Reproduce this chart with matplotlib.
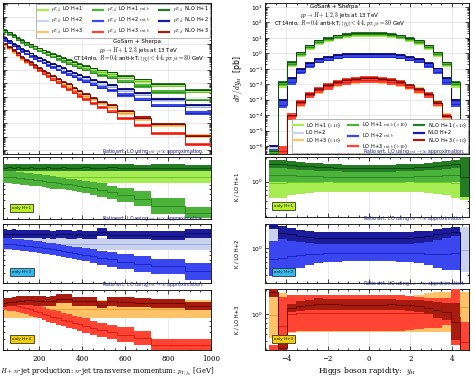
import numpy as np
import matplotlib
matplotlib.use('Agg')
import matplotlib.pyplot as plt
from matplotlib.lines import Line2D
from matplotlib.ticker import LogLocator, NullFormatter, MultipleLocator

plt.rcParams['mathtext.fontset'] = 'cm'
plt.rcParams['font.family'] = ['DejaVu Sans']

# ---------------- left column: jet transverse momentum ----------------
pt_edges = [30, 50, 70, 90, 110, 130, 150, 170, 190, 210, 230, 250, 275, 300, 325,
            350, 375, 400, 435, 470, 515, 560, 640, 720, 880, 1000]
# LO central values (log10 of d sigma / d pT)
log10_lo_h1 = [-0.11, -0.28, -0.48, -0.68, -0.86, -1.03, -1.18, -1.33, -1.48, -1.63, -1.76, -1.91, -2.06,
               -2.21, -2.36, -2.51, -2.66, -2.81, -2.99, -3.14, -3.29, -3.54, -3.81, -4.17, -4.62]
log10_lo_h2 = [-0.73, -0.91, -1.13, -1.33, -1.53, -1.71, -1.88, -2.04, -2.21, -2.36, -2.51, -2.66, -2.84,
               -2.99, -3.16, -3.31, -3.49, -3.66, -3.86, -4.04, -4.22, -4.52, -4.84, -5.24, -5.74]
log10_lo_h3 = [-1.11, -1.33, -1.61, -1.86, -2.11, -2.34, -2.54, -2.74, -2.94, -3.16, -3.34, -3.56, -3.79,
               -4.02, -4.22, -4.44, -4.67, -4.89, -5.17, -5.44, -5.72, -6.17, -6.65, -7.12, -7.95]
# ratios to LO (m_t -> inf)
pt_lo1_lo = [0.76] * 25
pt_lo1_hi = [1.23] * 25
pt_mtb1_lo = [0.76, 0.75, 0.74, 0.73, 0.72, 0.70, 0.69, 0.68, 0.67, 0.66, 0.64, 0.62, 0.61, 0.60, 0.58,
              0.56, 0.54, 0.52, 0.49, 0.46, 0.42, 0.37, 0.32, 0.24, 0.205]
pt_mtb1_hi = [1.20, 1.19, 1.18, 1.16, 1.14, 1.12, 1.10, 1.08, 1.06, 1.04, 1.01, 0.98, 0.95, 0.93, 0.90,
              0.87, 0.85, 0.82, 0.79, 0.75, 0.69, 0.63, 0.56, 0.44, 0.31]
pt_nlo1_lo = [1.20, 1.21, 1.20, 1.21, 1.20, 1.20, 1.21, 1.20, 1.20, 1.20, 1.21, 1.20, 1.20, 1.21, 1.20,
              1.20, 1.20, 1.21, 1.20, 1.20, 1.21, 1.20, 1.19, 1.20, 1.20]
pt_nlo1_hi = [1.52, 1.53, 1.52, 1.53, 1.52, 1.52, 1.53, 1.52, 1.52, 1.52, 1.53, 1.52, 1.52, 1.53, 1.52,
              1.52, 1.52, 1.53, 1.52, 1.52, 1.53, 1.52, 1.50, 1.52, 1.50]

pt_lo2_lo = [0.73] * 25
pt_lo2_hi = [1.15] * 25
pt_mtb2_lo = [0.75, 0.74, 0.73, 0.72, 0.71, 0.69, 0.67, 0.66, 0.64, 0.62, 0.61, 0.59, 0.57, 0.55, 0.53,
              0.51, 0.49, 0.47, 0.44, 0.41, 0.38, 0.34, 0.31, 0.28, 0.225]
pt_mtb2_hi = [1.15, 1.14, 1.13, 1.12, 1.10, 1.08, 1.06, 1.04, 1.02, 1.00, 0.97, 0.94, 0.92, 0.89, 0.86,
              0.83, 0.80, 0.77, 0.74, 0.70, 0.66, 0.62, 0.57, 0.52, 0.44]
pt_nlo2_lo = [1.15, 1.17, 1.15, 1.16, 1.14, 1.15, 1.16, 1.14, 1.15, 1.13, 1.15, 1.12, 1.14, 1.15, 1.13,
              1.12, 1.14, 1.12, 1.12, 1.25, 1.12, 1.12, 1.10, 1.08, 1.18]
pt_nlo2_hi = [1.62, 1.60, 1.62, 1.58, 1.60, 1.57, 1.60, 1.58, 1.60, 1.57, 1.58, 1.55, 1.57, 1.60, 1.58,
              1.55, 1.57, 1.55, 1.55, 1.72, 1.55, 1.55, 1.52, 1.50, 1.62]

pt_lo3_lo = [0.68] * 25
pt_lo3_hi = [1.36] * 25
pt_mtb3_lo = [0.93, 0.91, 0.89, 0.86, 0.83, 0.79, 0.75, 0.71, 0.67, 0.63, 0.59, 0.56, 0.53, 0.50, 0.47,
              0.44, 0.41, 0.39, 0.36, 0.33, 0.30, 0.27, 0.24, 0.19, 0.19]
pt_mtb3_hi = [1.45, 1.43, 1.40, 1.37, 1.33, 1.28, 1.22, 1.16, 1.10, 1.04, 0.98, 0.93, 0.88, 0.83, 0.79,
              0.75, 0.71, 0.67, 0.62, 0.57, 0.53, 0.48, 0.42, 0.31, 0.31]
pt_nlo3_lo = [1.05, 1.08, 1.08, 1.12, 1.12, 1.12, 1.12, 1.10, 1.10, 1.08, 1.08, 1.08, 1.21, 1.21, 1.21,
              1.08, 1.08, 1.08, 1.08, 1.00, 1.08, 1.05, 1.03, 1.00, 0.93]
pt_nlo3_hi = [1.45, 1.48, 1.50, 1.58, 1.58, 1.60, 1.60, 1.58, 1.58, 1.56, 1.55, 1.56, 1.70, 1.70, 1.70,
              1.55, 1.55, 1.55, 1.55, 1.30, 1.55, 1.50, 1.48, 1.42, 1.27]

# ---------------- right column: Higgs rapidity ----------------
y_edges = [-4.84, -4.40, -3.96, -3.52, -3.08, -2.64, -2.20, -1.76, -1.32, -0.88, -0.44, 0.00,
           0.44, 0.88, 1.32, 1.76, 2.20, 2.64, 3.08, 3.52, 3.96, 4.40, 4.84]
log10_lo_h1_y = [-7.5, -3.06, -1.76, -1.11, -0.66, -0.33, -0.14, 0.01, 0.11, 0.17, 0.19,
                 0.19, 0.17, 0.11, 0.01, -0.14, -0.33, -0.66, -1.11, -1.76, -3.06, -7.5]
log10_lo_h2_y = [-6.25, -3.22, -1.78, -1.14, -0.75, -0.48, -0.36, -0.23, -0.18, -0.18, -0.18,
                 -0.18, -0.18, -0.18, -0.23, -0.36, -0.48, -0.75, -1.14, -1.78, -3.22, -7.5]
log10_lo_h3_y = [-6.0, -5.2, -3.09, -2.25, -1.71, -1.41, -1.16, -0.96, -0.84, -0.76, -0.71,
                 -0.71, -0.76, -0.84, -0.96, -1.16, -1.41, -1.71, -2.25, -3.09, -5.2, -6.0]
scale_h1, scale_h2, scale_h3 = 10.0, 1.0, 0.1

y_lo1_lo = [0.66, 0.66, 0.70, 0.72, 0.74, 0.76, 0.77, 0.77, 0.77, 0.77, 0.77, 0.77, 0.77, 0.77, 0.77, 0.77, 0.76, 0.74, 0.72, 0.70, 0.66, 0.62]
y_lo1_hi = [1.44, 1.43, 1.40, 1.37, 1.35, 1.33, 1.32, 1.31, 1.30, 1.30, 1.30, 1.30, 1.30, 1.30, 1.31, 1.32, 1.33, 1.35, 1.37, 1.40, 1.43, 1.45]
y_mtb1_lo = [0.99] * 22
y_mtb1_hi = [1.44, 1.43, 1.40, 1.37, 1.35, 1.33, 1.32, 1.31, 1.30, 1.30, 1.30, 1.30, 1.30, 1.30, 1.31, 1.32, 1.33, 1.35, 1.37, 1.40, 1.43, 1.45]
y_nlo1_lo = [1.44, 1.43, 1.40, 1.37, 1.35, 1.33, 1.32, 1.31, 1.30, 1.30, 1.30, 1.30, 1.30, 1.30, 1.31, 1.32, 1.33, 1.35, 1.37, 1.40, 1.43, 0.68]
y_nlo1_hi = [1.78, 1.77, 1.72, 1.68, 1.64, 1.61, 1.59, 1.57, 1.56, 1.56, 1.56, 1.56, 1.56, 1.56, 1.57, 1.58, 1.60, 1.63, 1.66, 1.70, 1.76, 1.90]

y_lo2_lo = [0.50, 0.48, 0.55, 0.60, 0.64, 0.67, 0.69, 0.70, 0.71, 0.71, 0.71, 0.71, 0.71, 0.71, 0.70, 0.69, 0.67, 0.64, 0.60, 0.57, 0.57, 0.53]
y_lo2_hi = [1.65, 1.27, 1.22, 1.18, 1.15, 1.13, 1.12, 1.11, 1.11, 1.11, 1.11, 1.11, 1.11, 1.11, 1.11, 1.12, 1.14, 1.18, 1.25, 1.32, 1.37, 1.74]
y_mtb2_lo = [0.48, 0.48, 0.55, 0.60, 0.64, 0.67, 0.69, 0.70, 0.71, 0.71, 0.71, 0.71, 0.71, 0.71, 0.70, 0.69, 0.67, 0.64, 0.60, 0.57, 0.57, 0.10]
y_mtb2_hi = [1.20, 1.27, 1.22, 1.18, 1.15, 1.13, 1.12, 1.11, 1.11, 1.11, 1.11, 1.11, 1.11, 1.11, 1.11, 1.12, 1.14, 1.18, 1.25, 1.32, 1.37, 0.12]
y_nlo2_lo = [1.65, 1.27, 1.22, 1.18, 1.15, 1.13, 1.12, 1.11, 1.11, 1.11, 1.11, 1.11, 1.11, 1.11, 1.11, 1.12, 1.14, 1.18, 1.25, 1.32, 1.37, 0.10]
y_nlo2_hi = [1.95, 1.80, 1.70, 1.62, 1.58, 1.55, 1.54, 1.53, 1.53, 1.53, 1.53, 1.53, 1.53, 1.53, 1.53, 1.54, 1.56, 1.60, 1.66, 1.72, 1.74, 0.12]

y_lo3_lo = [0.55, 0.60, 0.62, 0.63, 0.63, 0.63, 0.63, 0.63, 0.63, 0.63, 0.63, 0.63, 0.63, 0.63, 0.63, 0.63, 0.63, 0.63, 0.63, 0.63, 0.62, 0.81]
y_lo3_hi = [1.75, 1.70, 1.65, 1.62, 1.60, 1.60, 1.60, 1.60, 1.60, 1.60, 1.60, 1.60, 1.60, 1.60, 1.60, 1.60, 1.62, 1.70, 1.75, 1.75, 1.75, 1.75]
y_mtb3_lo = [0.25, 0.35, 0.63, 0.65, 0.65, 0.65, 0.65, 0.65, 0.65, 0.65, 0.65, 0.65, 0.65, 0.65, 0.65, 0.66, 0.68, 0.70, 0.70, 0.75, 0.45, 0.30]
y_mtb3_hi = [0.45, 1.55, 1.63, 1.63, 1.63, 1.63, 1.63, 1.63, 1.63, 1.63, 1.63, 1.63, 1.63, 1.63, 1.63, 1.60, 1.55, 1.50, 1.50, 1.50, 1.90, 0.81]
y_nlo3_lo = [1.55, 0.38, 1.05, 1.08, 1.10, 1.12, 1.12, 1.11, 1.11, 1.11, 1.11, 1.11, 1.11, 1.12, 1.10, 1.08, 1.05, 1.00, 0.90, 0.86, 0.51, 0.10]
y_nlo3_hi = [2.00, 0.47, 1.30, 1.40, 1.45, 1.50, 1.48, 1.48, 1.47, 1.47, 1.47, 1.47, 1.47, 1.48, 1.45, 1.45, 1.42, 1.40, 1.35, 1.32, 1.32, 0.12]

# colours: (fill, line) for LO, LO m_tb, NLO
cols = {
    1: [('#a6ec52', '#6cc82a'), ('#4cb23a', '#2a8a20'), ('#237b23', '#0f4f0f')],
    2: [('#c9d3f0', '#9aaae0'), ('#3a46f0', '#1a28c8'), ('#1c1c9a', '#0a0a60')],
    3: [('#ffc266', '#f0a030'), ('#ff4433', '#e01a10'), ('#a81c10', '#700800')],
}
tag_cols = {1: '#b8f020', 2: '#33bbee', 3: '#f0d000'}

fig = plt.figure(figsize=(4.74, 3.90), dpi=100)

def fr(px):
    return px / 474.0

def fy(top, bot):
    return 1 - bot / 390.0, (bot - top) / 390.0

Lx, Lw = fr(3), fr(208)
Rx, Rw = fr(265), fr(204)
axL = [fig.add_axes([Lx, fy(3, 154)[0], Lw, fy(3, 154)[1]])]
for t, b in [(157, 219), (224, 283), (290, 350)]:
    bb, hh = fy(t, b)
    axL.append(fig.add_axes([Lx, bb, Lw, hh]))
axR = [fig.add_axes([Rx, fy(3, 154)[0], Rw, fy(3, 154)[1]])]
for t, b in [(157, 217), (224, 283), (289, 350)]:
    bb, hh = fy(t, b)
    axR.append(fig.add_axes([Rx, bb, Rw, hh]))


def band(ax, edges, lo, hi, fill, line, z):
    lo = np.asarray(lo, float)
    hi = np.asarray(hi, float)
    ax.stairs(hi, edges, baseline=lo, fill=True, color=fill, lw=0, zorder=z)
    ax.stairs(np.sqrt(lo * hi), edges, baseline=None, color=line, lw=0.7, zorder=z + 0.1)


pt_data = {
    1: (log10_lo_h1, (pt_lo1_lo, pt_lo1_hi), (pt_mtb1_lo, pt_mtb1_hi), (pt_nlo1_lo, pt_nlo1_hi)),
    2: (log10_lo_h2, (pt_lo2_lo, pt_lo2_hi), (pt_mtb2_lo, pt_mtb2_hi), (pt_nlo2_lo, pt_nlo2_hi)),
    3: (log10_lo_h3, (pt_lo3_lo, pt_lo3_hi), (pt_mtb3_lo, pt_mtb3_hi), (pt_nlo3_lo, pt_nlo3_hi)),
}
y_data = {
    1: (log10_lo_h1_y, scale_h1, (y_lo1_lo, y_lo1_hi), (y_mtb1_lo, y_mtb1_hi), (y_nlo1_lo, y_nlo1_hi)),
    2: (log10_lo_h2_y, scale_h2, (y_lo2_lo, y_lo2_hi), (y_mtb2_lo, y_mtb2_hi), (y_nlo2_lo, y_nlo2_hi)),
    3: (log10_lo_h3_y, scale_h3, (y_lo3_lo, y_lo3_hi), (y_mtb3_lo, y_mtb3_hi), (y_nlo3_lo, y_nlo3_hi)),
}

# ---- left main + ratios
for n in [3, 2, 1]:
    lg, rlo, rmtb, rnlo = pt_data[n]
    c = 10.0 ** np.asarray(lg)
    for k, (lo, hi) in enumerate([rlo, rmtb, rnlo]):
        band(axL[0], pt_edges, c * np.asarray(lo), c * np.asarray(hi), cols[n][k][0], cols[n][k][1], 2 + k + (3 - n) * 3)
        band(axL[n], pt_edges, lo, hi, cols[n][k][0], cols[n][k][1], 2 + k)
# ---- right main + ratios
for n in [3, 2, 1]:
    lg, sc, rlo, rmtb, rnlo = y_data[n]
    c = sc * 10.0 ** np.asarray(lg)
    for k, (lo, hi) in enumerate([rlo, rmtb, rnlo]):
        band(axR[0], y_edges, c * np.asarray(lo), c * np.asarray(hi), cols[n][k][0], cols[n][k][1], 2 + k + (3 - n) * 3)
        band(axR[n], y_edges, lo, hi, cols[n][k][0], cols[n][k][1], 2 + k)

serif = 'DejaVu Serif'
for ax in axL + axR:
    ax.set_yscale('log')
    ax.tick_params(which='both', direction='in', top=True, right=True, width=0.5, labelsize=5)
    ax.tick_params(which='major', length=3)
    ax.tick_params(which='minor', length=1.6)
    for s in ax.spines.values():
        s.set_linewidth(0.6)

for ax in axL:
    ax.set_xlim(30, 1000)
    ax.xaxis.set_major_locator(MultipleLocator(200))
    ax.xaxis.set_minor_locator(MultipleLocator(50))
    ax.tick_params(labelleft=False)
for ax in axR:
    ax.set_xlim(-5.03, 4.84)
    ax.xaxis.set_major_locator(MultipleLocator(2))
    ax.xaxis.set_minor_locator(MultipleLocator(0.5))

axL[0].set_ylim(10 ** -9.3, 10 ** 2.05)
axR[0].set_ylim(10 ** -6.52, 10 ** 3.26)
for ax in (axL[0], axR[0]):
    ax.yaxis.set_major_locator(LogLocator(base=10, numticks=20))
    ax.yaxis.set_minor_locator(LogLocator(base=10, subs=np.arange(2, 10), numticks=20))
    ax.yaxis.set_minor_formatter(NullFormatter())
    ax.grid(True, which='major', color='#d9d9d9', lw=0.4)
    ax.set_axisbelow(True)
for ax in axL[1:]:
    ax.set_ylim(0.2, 2.0)
for ax in axR[1:]:
    ax.set_ylim(0.4, 1.9)
for ax in axL[1:] + axR[1:]:
    ax.yaxis.set_minor_formatter(NullFormatter())
    ax.grid(True, which='major', color='#d9d9d9', lw=0.4)
    ax.set_axisbelow(True)
for ax in axL[:3] + axR[:3]:
    ax.tick_params(labelbottom=False)
for ax in axR:
    ax.tick_params(axis='y', labelsize=4.3, pad=1.2)
for ax in axL + axR:
    for lab in ax.get_xticklabels():
        lab.set_family(serif)

# ---- text
txt = dict(fontsize=4.0, ha='center', va='center')
axL[0].text(0.645, 0.748, 'GoSam + Sherpa', transform=axL[0].transAxes, **txt)
axL[0].text(0.652, 0.69, r'$pp \rightarrow H + 1, 2, 3$ jets at 13 TeV', transform=axL[0].transAxes, **txt)
axL[0].text(0.655, 0.632, r'CT14nlo, $R=0.4$ anti-kT, $|\eta_j|<4.4$, $p_{T,jet}=30$ GeV', transform=axL[0].transAxes, **txt)
axR[0].text(0.34, 0.975, 'GoSam + Sherpa', transform=axR[0].transAxes, **txt)
axR[0].text(0.365, 0.92, r'$pp \rightarrow H + 1, 2, 3$ jets at 13 TeV', transform=axR[0].transAxes, **txt)
axR[0].text(0.365, 0.862, r'CT14nlo, $R=0.4$ anti-kT, $|\eta_j|<4.4$, $p_{T,jet}=30$ GeV', transform=axR[0].transAxes, **txt)

ratio_txt = r'Ratio wrt. LO using $m_t \rightarrow \infty$ approximation.'
for ax, xr in [(a, 0.97) for a in axL[1:]] + [(a, 0.985) for a in axR[1:]]:
    ax.text(xr, 1.01, ratio_txt, transform=ax.transAxes, ha='right', va='bottom', fontsize=3.4, color='#1a1a8c')

for axs in (axL, axR):
    for n, ax in zip([1, 2, 3], axs[1:]):
        ax.text(0.045, 0.18, 'only H+%d' % n, transform=ax.transAxes, ha='left', va='center', fontsize=3,
                bbox=dict(boxstyle='square,pad=0.5', fc=tag_cols[n], ec='#333333', lw=0.6), zorder=20)

axL[3].set_xlabel(r'$H+n$-jet production: $n$-jet transverse momentum: $p_{T,j_n}$ [GeV]', fontsize=5.0, family=serif, labelpad=1.5)
axR[3].set_xlabel(r'Higgs boson rapidity:  $y_H$', fontsize=5.5, family=serif, labelpad=1.5)
axR[0].set_ylabel(r'$d\sigma/dy_H$  [pb]', fontsize=5.5)
axR[0].yaxis.set_label_coords(-0.105, 0.5)
for n, ax in zip([1, 2, 3], axR[1:]):
    ax.set_ylabel('K / LO H+%d' % n, fontsize=3.8)
    ax.yaxis.set_label_coords(-0.125, 0.5)

# ---- legends
kinds = ['LO', 'LO', 'NLO']
hL, lL, hR, lR = [], [], [], []
sfx = {1: r' ($\times10$)', 2: '', 3: r' ($\div10$)'}
for k in range(3):
    for n in [1, 2, 3]:
        h = Line2D([], [], color=cols[n][k][0], lw=1.6)
        mt = r' $m_{t,b}$' if k == 1 else ''
        hL.append(h)
        lL.append(r'$p_{T,j_%d}$ %s H+%d%s' % (n, kinds[k], n, mt))
        hR.append(h)
        lR.append(r'%s H+%d%s%s' % (kinds[k], n, mt, sfx[n]))
legkw = dict(ncol=3, handlelength=2.0, borderpad=0.25, handletextpad=0.7,
             fancybox=False, framealpha=1, edgecolor='#999999')
lg1 = axL[0].legend(hL, lL, loc='upper right', bbox_to_anchor=(1.0, 1.0), borderaxespad=0.2,
                    columnspacing=2.0, fontsize=3.6, labelspacing=0.15, **legkw)
lg1.get_frame().set_linewidth(0.5)
lg1.set_zorder(30)
lg2 = axR[0].legend(hR, lR, loc='lower right', bbox_to_anchor=(1.0, 0.0), borderaxespad=0.2,
                    columnspacing=1.3, fontsize=3.6, labelspacing=0.15, **legkw)
lg2.get_frame().set_linewidth(0.5)
lg2.set_zorder(30)

fig.savefig('out.png', dpi=100)
